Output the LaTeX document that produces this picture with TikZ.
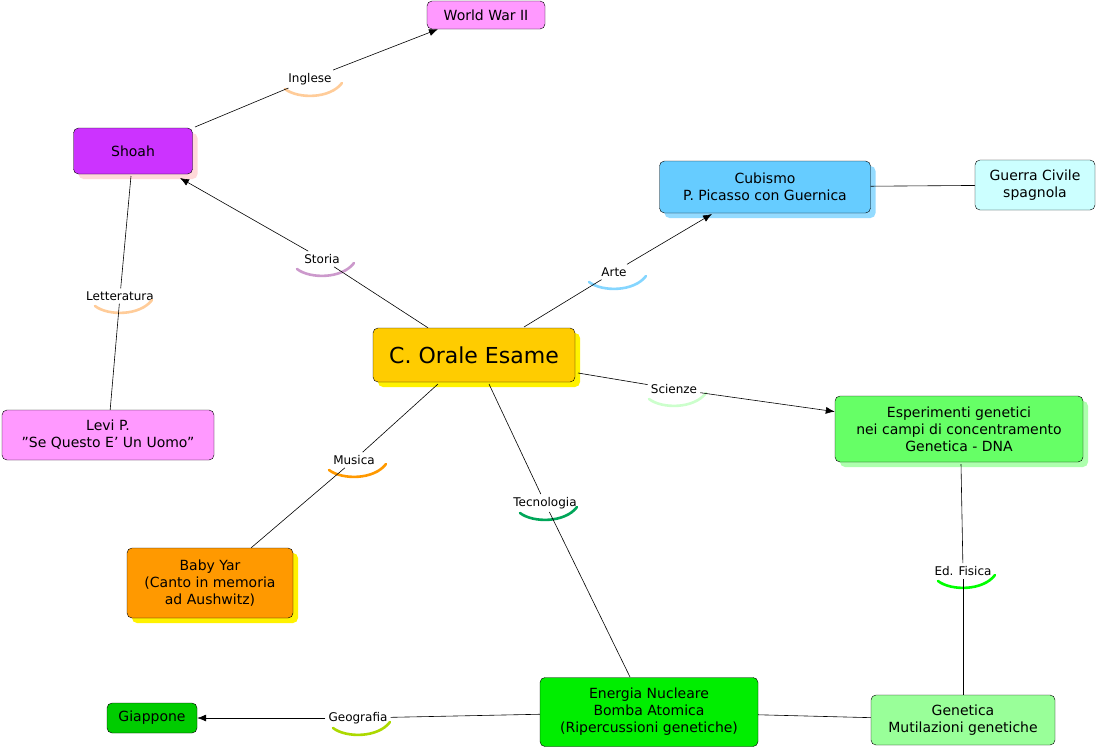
\documentclass[tikz,border=0pt]{standalone}
\usepackage{fontspec}
\setmainfont{DejaVu Sans}
\usetikzlibrary{shadows,arrows.meta}
\definecolor{cww}{HTML}{FF99FF}
\definecolor{csh}{HTML}{CC33FF}
\definecolor{ccu}{HTML}{66CCFF}
\definecolor{cgu}{HTML}{CCFFFF}
\definecolor{cor}{HTML}{FFCC00}
\definecolor{ces}{HTML}{66FF66}
\definecolor{cba}{HTML}{FF9900}
\definecolor{cen}{HTML}{00EE00}
\definecolor{cge}{HTML}{99FF99}
\definecolor{cgi}{HTML}{00CC00}
\tikzset{
 concept/.style={draw=black, rounded corners=5pt, align=center, inner sep=2pt,
   font=\fontsize{14}{17}\selectfont},
 shad/.style={drop shadow={fill=#1, opacity=1, shadow xshift=5pt, shadow yshift=-5pt}},
 lbl/.style={font=\fontsize{12}{14}\selectfont, inner sep=3pt},
 conn/.style={draw=black, line width=0.6pt},
 arr/.style={conn, -{Latex[length=9pt,width=7pt]}},
 sw/.style={line width=2.6pt, line cap=round, draw=#1}
}
\newcommand\swoosh[2]{\draw[sw=#2, shift={(#1)}] (-25,10) .. controls (-12,20) and (20,20) .. (32,4);}
\begin{document}
\begin{tikzpicture}[x=1pt,y=-1pt]
\useasboundingbox[fill=white] (0,0) rectangle (1097,750);
% labels with swooshes
\node[lbl] (ingl) at (310,79) {Inglese};
\node[lbl] (stor) at (322,259) {Storia};
\node[lbl] (arte) at (614,272) {Arte};
\node[lbl] (lett) at (120,296) {Letteratura};
\node[lbl] (scie) at (674,389) {Scienze};
\node[lbl] (musi) at (354,460) {Musica};
\node[lbl] (tecn) at (545,503) {Tecnologia};
\node[lbl] (edfi) at (963,571) {Ed. Fisica};
\node[lbl] (geog) at (358,718) {Geografia};
\swoosh{ingl}{orange!40}
\swoosh{stor}{violet!40}
\swoosh{arte}{ccu!80}
\swoosh{lett}{orange!40}
\swoosh{scie}{green!20}
\swoosh{musi}{cba}
\swoosh{tecn}{teal!70!green}
\swoosh{edfi}{green}
\swoosh{geog}{lime!70!olive}
% concepts
\node[concept, fill=cww, minimum width=118pt, minimum height=28pt] (ww) at (486,15) {World War II};
\node[concept, fill=csh, shad=pink!60, minimum width=119pt, minimum height=46pt] (sh) at (133,151) {Shoah};
\node[concept, fill=ccu, shad=ccu!70, minimum width=211pt, minimum height=52pt] (cu) at (765,187) {Cubismo\\P. Picasso con Guernica};
\node[concept, fill=cgu, minimum width=120pt, minimum height=50pt] (gu) at (1035,185) {Guerra Civile\\spagnola};
\node[concept, fill=cor, shad=yellow, minimum width=202pt, minimum height=54pt, font=\fontsize{22}{26}\selectfont] (or) at (474,355) {C. Orale Esame};
\node[concept, fill=ces, shad=cge!80, minimum width=248pt, minimum height=66pt] (es) at (959,429) {Esperimenti genetici\\nei campi di concentramento\\Genetica - DNA};
\node[concept, fill=cww, minimum width=212pt, minimum height=50pt] (le) at (108,435) {Levi P.\\"Se Questo E' Un Uomo"};
\node[concept, fill=cba, shad=yellow, minimum width=166pt, minimum height=70pt] (ba) at (210,583) {Baby Yar\\(Canto in memoria\\ad Aushwitz)};
\node[concept, fill=cen, minimum width=218pt, minimum height=69pt] (en) at (649,712) {Energia Nucleare\\Bomba Atomica\\(Ripercussioni genetiche)};
\node[concept, fill=cge, minimum width=184pt, minimum height=50pt] (gm) at (963,720) {Genetica\\Mutilazioni genetiche};
\node[concept, fill=cgi, minimum width=90pt, minimum height=30pt] (gi) at (152,718) {Giappone};
% connectors
\draw[conn] (sh.north east) ++(0,0) coordinate (a1);
\draw[conn] (195,127) coordinate (s1) -- (ingl);
\draw[arr] (ingl) -- (ww.south west -| 438,30);
\draw[conn] (or.north west -| 428,327) coordinate (o1) -- (stor);
\draw[arr] (stor) -- (180,178) coordinate (s2);
\draw[conn] (524,327) coordinate (o2) -- (arte);
\draw[arr] (arte) -- (712,214) coordinate (c1);
\draw[conn] (cu) -- (gu);
\draw[conn] (131,176) coordinate (s3) -- (lett);
\draw[conn] (lett) -- (le);
\draw[conn] (578,373) coordinate (o3) -- (scie);
\draw[arr] (scie) -- (es);
\draw[conn] (438,384) coordinate (o4) -- (musi);
\draw[conn] (musi) -- (ba);
\draw[conn] (489,384) coordinate (o5) -- (tecn);
\draw[conn] (tecn) -- (630,677) coordinate (e1);
\draw[conn] (961,464) coordinate (g1) -- (edfi);
\draw[conn] (edfi) -- (gm);
\draw[conn] (gm) -- (en);
\draw[conn] (en) -- (geog);
\draw[arr] (geog) -- (gi);
\end{tikzpicture}
\end{document}
